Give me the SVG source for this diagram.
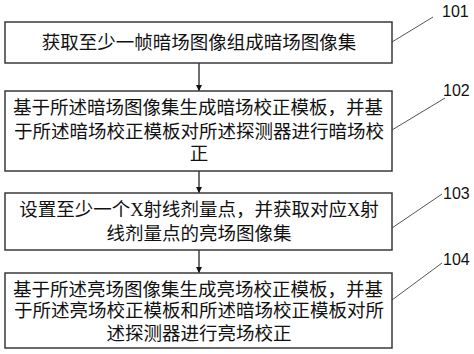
<svg xmlns="http://www.w3.org/2000/svg" width="474" height="354" viewBox="0 0 474 354">
<defs>
<style>
.box{fill:#fff;stroke:#3a3a3a;stroke-width:1.5}
.t{font-family:"Liberation Serif","Noto Sans CJK SC",serif;font-size:18.5px;fill:#111;text-anchor:middle}
.lbl{font-family:"Liberation Sans",Arial,sans-serif;font-size:16px;fill:#111}
.lead{stroke:#555;stroke-width:1;fill:none}
.arr{stroke:#222;stroke-width:1.3;fill:none;marker-end:url(#ah)}
</style>
<marker id="ah" viewBox="0 0 10 10" refX="10" refY="5" markerWidth="6" markerHeight="7" markerUnits="userSpaceOnUse" orient="auto">
<path d="M0,0 L10,5 L0,10 z" fill="#111"/>
</marker>
</defs>
<rect width="474" height="354" fill="#fff"/>
<g id="connectors">
<line class="arr" x1="199" y1="63" x2="199" y2="91"/>
<line class="arr" x1="199" y1="171" x2="199" y2="193"/>
<line class="arr" x1="199" y1="250" x2="199" y2="273"/>
<line class="lead" x1="392" y1="42" x2="433" y2="17"/>
<line class="lead" x1="392" y1="130" x2="445" y2="98"/>
<line class="lead" x1="392" y1="228" x2="442" y2="194"/>
<line class="lead" x1="392" y1="300" x2="442" y2="263"/>
</g>
<g id="n101">
<rect class="box" x="5" y="22" width="387" height="41"/>
<text class="t" x="199" y="49">获取至少一帧暗场图像组成暗场图像集</text>
<text class="lbl" x="442" y="17">101</text>
</g>
<g id="n102">
<rect class="box" x="5" y="91" width="387" height="80"/>
<text class="t" x="198" y="114">基于所述暗场图像集生成暗场校正模板，并基</text>
<text class="t" x="199" y="138">于所述暗场校正模板对所述探测器进行暗场校</text>
<text class="t" x="199" y="160">正</text>
<text class="lbl" x="443" y="96">102</text>
</g>
<g id="n103">
<rect class="box" x="5" y="193" width="387" height="57"/>
<text class="t" x="199" y="216">设置至少一个X射线剂量点，并获取对应X射</text>
<text class="t" x="199" y="240">线剂量点的亮场图像集</text>
<text class="lbl" x="443" y="199">103</text>
</g>
<g id="n104">
<rect class="box" x="5" y="273" width="387" height="75"/>
<text class="t" x="198" y="296">基于所述亮场图像集生成亮场校正模板，并基</text>
<text class="t" x="199" y="317">于所述亮场校正模板和所述暗场校正模板对所</text>
<text class="t" x="199" y="340">述探测器进行亮场校正</text>
<text class="lbl" x="443" y="265">104</text>
</g>
</svg>
